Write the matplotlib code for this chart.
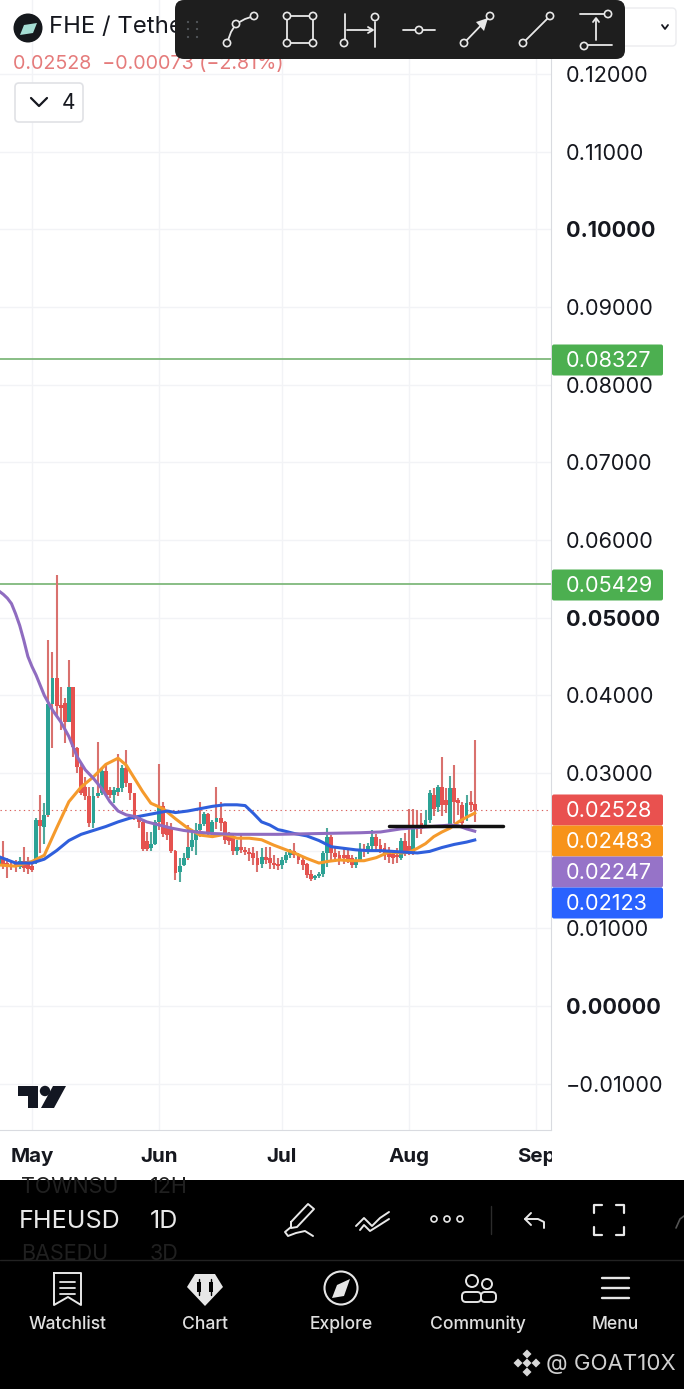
import numpy as np
import pandas as pd
import matplotlib
matplotlib.use('Agg')
import matplotlib.pyplot as plt
from matplotlib.patches import Rectangle, FancyBboxPatch, Circle, Polygon

plt.rcParams['font.family'] = ['Inter', 'DejaVu Sans']

# daily candles, FHE / Tether
first_day = '2025-04-23'
opens = [.0183,.0190,.0184,.0182,.0184,.0179,.0186,.0187,.0180,.0185,.0239,.0231,.0246,.0389,.0422,.0388,.0390,.0366,
         .0411,.0332,.0308,.0282,.0270,.0235,.0270,.0274,.0302,.0278,.0272,.0276,.0280,.0306,.0287,.0274,.0244,.0237,
         .0212,.0203,.0209,.0237,.0258,.0231,.0229,.0199,.0173,.0182,.0190,.0205,.0214,.0226,.0234,.0247,.0224,.0237,
         .0242,.0237,.0220,.0218,.0199,.0205,.0201,.0198,.0197,.0190,.0183,.0192,.0190,.0184,.0183,.0181,.0188,.0194,
         .0199,.0196,.0188,.0183,.0170,.0165,.0167,.0170,.0197,.0218,.0197,.0194,.0194,.0194,.0190,.0181,.0188,.0202,
         .0200,.0206,.0218,.0207,.0203,.0199,.0196,.0194,.0190,.0213,.0206,.0197,.0233,.0235,.0233,.0240,.0271,.0256,
         .0282,.0265,.0231,.0280,.0265,.0259,.0241,.0263,.0260]
highs = [.0195,.0213,.0190,.0187,.0188,.0192,.0205,.0192,.0186,.0242,.0272,.0261,.0471,.0456,.0555,.0411,.0396,.0446,
         .0411,.0334,.0312,.0295,.0282,.0282,.0340,.0308,.0312,.0282,.0282,.0325,.0310,.0330,.0287,.0274,.0246,.0240,
         .0224,.0224,.0240,.0312,.0262,.0237,.0235,.0201,.0190,.0197,.0233,.0225,.0235,.0262,.0250,.0248,.0240,.0282,
         .0263,.0238,.0224,.0222,.0214,.0220,.0205,.0203,.0205,.0200,.0203,.0205,.0205,.0194,.0190,.0192,.0198,.0202,
         .0210,.0197,.0190,.0184,.0175,.0169,.0172,.0199,.0229,.0220,.0203,.0200,.0205,.0203,.0195,.0192,.0210,.0209,
         .0210,.0227,.0222,.0215,.0210,.0205,.0200,.0203,.0216,.0223,.0254,.0254,.0252,.0248,.0252,.0278,.0280,.0284,
         .0320,.0280,.0296,.0310,.0268,.0262,.0272,.0277,.0342]
lows = [.0178,.0176,.0165,.0175,.0173,.0176,.0172,.0170,.0172,.0183,.0197,.0209,.0243,.0332,.0373,.0355,.0338,.0366,
        .0321,.0300,.0272,.0265,.0231,.0229,.0268,.0272,.0270,.0268,.0261,.0270,.0276,.0282,.0265,.0240,.0229,.0200,
        .0200,.0200,.0207,.0226,.0218,.0214,.0197,.0162,.0159,.0180,.0188,.0200,.0194,.0218,.0232,.0218,.0220,.0228,
        .0225,.0209,.0207,.0195,.0195,.0197,.0194,.0186,.0182,.0172,.0178,.0183,.0176,.0176,.0175,.0176,.0184,.0190,
        .0190,.0183,.0175,.0165,.0161,.0162,.0165,.0166,.0179,.0186,.0185,.0181,.0183,.0184,.0178,.0178,.0186,.0192,
        .0196,.0200,.0200,.0197,.0188,.0184,.0183,.0184,.0188,.0193,.0194,.0195,.0216,.0222,.0230,.0236,.0245,.0250,
        .0244,.0248,.0231,.0235,.0246,.0232,.0238,.0250,.0237]
closes = [.0190,.0182,.0180,.0180,.0179,.0187,.0178,.0176,.0175,.0239,.0232,.0246,.0389,.0422,.0386,.0383,.0366,.0411,
          .0334,.0308,.0274,.0270,.0235,.0270,.0274,.0302,.0272,.0272,.0278,.0280,.0306,.0287,.0274,.0244,.0237,.0202,
          .0202,.0209,.0237,.0258,.0222,.0220,.0199,.0171,.0180,.0190,.0205,.0214,.0226,.0234,.0247,.0224,.0237,.0242,
          .0236,.0214,.0212,.0199,.0205,.0201,.0198,.0196,.0190,.0182,.0192,.0188,.0184,.0181,.0180,.0188,.0194,.0199,
          .0194,.0188,.0181,.0169,.0164,.0167,.0170,.0197,.0218,.0197,.0192,.0186,.0190,.0188,.0181,.0188,.0201,.0199,
          .0206,.0218,.0206,.0201,.0193,.0192,.0190,.0192,.0213,.0198,.0197,.0233,.0228,.0228,.0240,.0274,.0254,.0282,
          .0259,.0259,.0280,.0263,.0261,.0235,.0261,.0259,.02528]

# moving averages, read at these day offsets from May 1
orange_days = [-8,-4,0,3,6,9,12,15,18,21,23,25,27,29,32,35,38,41,44,47,50,53,56,59,61,64,67,70,72,75,78,81,84,87,90,92,94,96,98,100,102,104,106,108]
orange_vals = [.01815,.0180,.0186,.0194,.0229,.0263,.0282,.0295,.0311,.0319,.0310,.0293,.0276,.0261,.0254,.0241,.0229,.0220,.0218,.0221,.0216,.0216,.0214,.0207,.0203,.0197,.0190,.0184,.0186,.0188,.0187,.0187,.0191,.0198,.0197,.0198,.0203,.0209,.0218,.0224,.0229,.0237,.0243,.02483]
blue_days = [-8,-5,-4,0,3,6,9,12,15,18,21,24,27,29,31,33,35,38,41,44,47,50,52,54,56,58,60,61,64,67,70,73,76,79,82,85,88,91,94,97,100,103,106,108]
blue_vals = [.0192,.0186,.0184,.0184,.0189,.0200,.0213,.0221,.0226,.0231,.0237,.0242,.0245,.0247,.0249,.0251,.0249,.0251,.0254,.0257,.0259,.0259,.0258,.0248,.0237,.0233,.0227,.0226,.0222,.0219,.0213,.0205,.0203,.0201,.0200,.0200,.0199,.0198,.0197,.0199,.0204,.0208,.0211,.02137]
purple_days = [-8,-7,-6,-5,-4,-3,-2,-1,0,1,3,5,7,9,11,13,15,17,19,21,23,25,28,31,34,37,40,44,50,60,70,80,85,90,95,100,102,104,106,108]
purple_vals = [.0534,.0530,.0525,.0518,.0505,.0490,.0471,.0450,.0437,.0426,.0400,.0381,.0366,.0347,.0321,.0304,.0293,.0280,.0263,.0251,.0246,.0244,.0237,.0233,.0229,.0226,.0224,.0222,.0221,.0221,.0222,.0223,.0224,.0228,.0230,.0232,.0233,.0232,.0228,.0225]

hlines = [0.08327, 0.05429]
support = 0.0232
last_price = 0.02528
price_ticks = [-0.01, 0, 0.01, 0.02, 0.03, 0.04, 0.05, 0.06, 0.07, 0.08, 0.09, 0.10, 0.11, 0.12]
bold_ticks = [0, 0.05, 0.10]
month_ticks = ['2025-05-01', '2025-06-01', '2025-07-01', '2025-08-01', '2025-09-01']
month_names = ['May', 'Jun', 'Jul', 'Aug', 'Sep']

W, H = 684, 1389
GREEN, RED = '#2ba295', '#e5524f'
ORANGE, BLUE, PURPLE = '#f59a2c', '#2f5fdc', '#8f6cc0'
grid = '#f2f3f6'

fig = plt.figure(figsize=(W/100, H/100), dpi=100, facecolor='white')
ax = fig.add_axes([0, (H-1130)/H, 551/W, 1130/H])

dates = pd.date_range(first_day, periods=len(opens))
opens, highs, lows, closes = map(np.array, (opens, highs, lows, closes))
may1 = pd.Timestamp('2025-05-01')

def to_dates(days):
    return [may1 + pd.Timedelta(days=int(d)) for d in days]

up = closes >= opens
colors = np.where(up, GREEN, RED)
# long upper wicks read as red in the picture, whatever the body
wick_colors = np.where(up & (highs - np.maximum(opens, closes) < 0.002), '#4fa99c', '#d9716e')
ax.vlines(dates, lows, highs, colors=wick_colors, lw=1.5, zorder=3)
ax.bar(dates, np.maximum(np.abs(closes-opens), 0.00015), bottom=np.minimum(opens, closes),
       width=0.95, color=colors, zorder=4, linewidth=0)

ax.plot(to_dates(orange_days), orange_vals, color=ORANGE, lw=2.2, zorder=5, solid_joinstyle='round')
ax.plot(to_dates(blue_days), blue_vals, color=BLUE, lw=2.2, zorder=5, solid_joinstyle='round')
ax.plot(to_dates(purple_days), purple_vals, color=PURPLE, lw=2.2, zorder=6, solid_joinstyle='round')

for v in hlines:
    ax.axhline(v, color='#7fb97c', lw=1.3, zorder=2)
ax.axhline(last_price, color='#d9605c', lw=0.8, ls=(0, (1.2, 3)), zorder=2)
ax.plot(to_dates([87, 115]), [support, support], color='#111111', lw=2.5, zorder=7, solid_capstyle='round')

ax.set_ylim(-0.01597, 0.12952)
ax.set_xlim(may1 - pd.Timedelta(days=7.8), may1 + pd.Timedelta(days=126.6))
ax.set_yticks(price_ticks)
# 0.02000 sits behind the price tags in the picture
ax.set_yticklabels(['' if t == 0.02 else ('\u22120.01000' if t < 0 else '%.5f' % t) for t in price_ticks])
ax.yaxis.tick_right()
ax.tick_params(axis='y', length=0, pad=10.5, labelsize=15.6, labelcolor='#16181f')
for t, lab in zip(price_ticks, ax.get_yticklabels()):
    if t in bold_ticks:
        lab.set_fontweight('bold')
ax.set_xticks(pd.to_datetime(month_ticks))
ax.set_xticklabels(month_names)
ax.tick_params(axis='x', length=0, pad=13, labelsize=14.8, labelcolor='#16181f')
for lab in ax.get_xticklabels():
    lab.set_fontweight('bold')
ax.grid(True, color=grid, lw=1)
ax.set_axisbelow(True)
for s in ['top', 'left']:
    ax.spines[s].set_visible(False)
ax.spines['right'].set_color('#d9dbe0')
ax.spines['bottom'].set_color('#d9dbe0')

# everything around the chart, in screen pixels
ui = fig.add_axes([0, 0, 1, 1])
ui.set_xlim(0, W)
ui.set_ylim(H, 0)
ui.axis('off')
ui.patch.set_alpha(0)

def line(xs, ys, c='#e8e8e8', lw=1.3, z=12):
    ui.plot(xs, ys, color=c, lw=lw, zorder=z, solid_capstyle='round')

def node(x, y, r=3.6, z=13):
    ui.add_patch(Circle((x, y), r, fc='#1e1e1e', ec='#e8e8e8', lw=1.2, zorder=z))

def txt(x, y, s, size, c='white', ha='left', weight='normal', z=12):
    ui.text(x, y, s, fontsize=size, color=c, ha=ha, va='center', fontweight=weight, zorder=z)

# cover for the clipped Sep label
ui.add_patch(Rectangle((551.5, 1131), 133, 49, fc='white', ec='none', zorder=2))

# price tags
tags = [(360, '#4caf50', '0.08327'), (585, '#4caf50', '0.05429'), (810, '#e9514f', '0.02528'),
        (841, '#f7931a', '0.02483'), (872, '#9673c8', '0.02247'), (903, '#2962ff', '0.02123')]
for y, c, s in tags:
    ui.add_patch(FancyBboxPatch((552, y-15.5), 111, 31, boxstyle='round,pad=0,rounding_size=2', fc=c, ec='none', zorder=3))
    txt(566, y+1, s, 15.6, 'white', z=4)

# header
ui.add_patch(Circle((28, 28), 14.5, fc='#15181c', ec='none', zorder=5))
ui.add_patch(Polygon([[20, 35], [24, 25], [37, 23], [33, 33]], fc='#a5ded4', ec='none', zorder=6))
txt(49, 27, 'FHE / Tether', 17.2, '#16181f', z=5)
txt(13, 63.5, '0.02528  \u22120.00073 (\u22122.81%)', 14.2, '#e57b7b', z=5)
ui.add_patch(FancyBboxPatch((15, 83), 68, 39, boxstyle='round,pad=0,rounding_size=4', fc='white', ec='#e0e1e5', lw=1.2, zorder=5))
line([31, 39, 47], [98, 106, 98], '#16181f', 1.6, 6)
txt(62, 103, '4', 15, '#16181f', z=6)
ui.add_patch(FancyBboxPatch((600, 8), 76, 38, boxstyle='round,pad=0,rounding_size=4', fc='white', ec='#ebecef', lw=1, zorder=5))
line([662, 665, 668], [25, 29, 25], '#16181f', 1.3, 6)

# drawing toolbar
ui.add_patch(FancyBboxPatch((175, 0), 450, 59, boxstyle='round,pad=0,rounding_size=9', fc='#1e1e1e', ec='none', zorder=10))
for gx in [188, 197]:
    for gy in [22, 29, 37]:
        ui.add_patch(Circle((gx, gy), 1.1, fc='#55585c', ec='none', zorder=11))
line([227, 231, 236, 245, 254], [43, 32, 24, 19, 16])
for p in [(227, 43), (236, 24), (254, 16)]:
    node(*p)
line([287, 313, 313, 287, 287], [16, 16, 43, 43, 16])
for p in [(287, 16), (313, 16), (287, 43), (313, 43)]:
    node(*p)
line([345, 345], [14, 39]); node(344, 43)
line([375, 375], [22, 47]); node(375, 17)
line([347, 372], [30, 30]); line([368, 373, 368], [27, 30, 33])
line([403, 435], [30, 30]); node(419, 30)
line([464, 490], [43, 16])
ui.add_patch(Polygon([[488, 18], [476, 22], [484, 31]], fc='#e8e8e8', ec='none', zorder=12))
node(464, 43); node(490, 16)
line([523, 550], [43, 16]); node(523, 43); node(550, 16)
line([580, 608], [14, 14]); node(608, 14)
line([584, 612], [45, 45]); node(584, 46)
line([596, 596], [40, 19]); line([593, 596, 599], [22, 18, 22])

# TradingView mark
ui.add_patch(Polygon([[18, 1086], [38, 1086], [38, 1108], [28, 1108], [28, 1096], [18, 1096]], fc='#131722', ec='none', zorder=5))
ui.add_patch(Circle((45, 1091), 5.2, fc='#131722', ec='none', zorder=5))
ui.add_patch(Polygon([[53, 1086], [66, 1086], [54, 1108], [41, 1108]], fc='#131722', ec='none', zorder=5))

# bottom bar
ui.add_patch(Rectangle((0, 1180), W, H-1180, fc='black', ec='none', zorder=5))
txt(19, 1221, 'FHEUSD', 18, '#e8e8e8', z=6)
txt(150, 1221, '1D', 18, '#e8e8e8', z=6)
txt(21, 1187, 'TOWNSU', 15.5, '#202020', z=6)
txt(150, 1187, '12H', 15.5, '#202020', z=6)
txt(21, 1254, 'BASEDU', 15.5, '#202020', z=6)
txt(150, 1254, '3D', 15.5, '#202020', z=6)
ui.add_patch(Rectangle((122, 1181), 8, 78, fc='black', ec='none', zorder=7))
line([0, W], [1260, 1260], '#222222', 1, 6)

# toolbar row icons
line([291, 308, 314, 297, 291, 291], [1222, 1204, 1209, 1227, 1228, 1222], lw=1.4)
line([291, 285, 288, 296, 305, 313], [1227, 1232, 1236, 1233, 1231, 1236], lw=1.4)
line([356, 364, 372, 380, 389], [1226, 1218, 1226, 1218, 1212], lw=1.4)
line([360, 364, 370, 378, 389], [1230, 1225, 1231, 1226, 1219], lw=1.4)
for dx in [434, 447, 460]:
    ui.add_patch(Circle((dx, 1219), 3, fc='black', ec='#e8e8e8', lw=1.2, zorder=6))
line([491, 491], [1206, 1234], '#2c2c2c', 1)
line([531, 525, 531], [1213, 1219, 1225], lw=1.4)
line([525, 538, 544, 544], [1219, 1219, 1222, 1228], lw=1.4)
for sx, sy in [(1, 1), (-1, 1), (1, -1), (-1, -1)]:
    cx, cy = 609 - sx*15, 1220 - sy*15
    line([cx, cx, cx+sx*8], [cy+sy*8, cy, cy], lw=1.6)
line([676, 680, 684], [1228, 1219, 1216], '#555555', 1.2)

# nav bar
line([54, 81, 81, 68, 54, 54], [1273, 1273, 1305, 1297, 1305, 1273], lw=1.4)
for ly in [1282, 1288, 1294]:
    line([60, 75], [ly, ly], lw=1.3)
ui.add_patch(Polygon([[195, 1274], [215, 1274], [223, 1287], [205, 1306], [187, 1287]], fc='#e6e6e6', ec='none', zorder=6))
for cx in [199, 211]:
    ui.add_patch(Rectangle((cx-2, 1282), 4, 10, fc='black', ec='none', zorder=7))
    line([cx, cx], [1279, 1295], 'black', 1, 7)
ui.add_patch(Circle((341, 1288), 16.5, fc='black', ec='#e6e6e6', lw=1.5, zorder=6))
ui.add_patch(Polygon([[350, 1279], [344, 1296], [332, 1298], [337, 1285]], fc='#e6e6e6', ec='none', zorder=7))
ui.add_patch(Circle((472, 1281), 6, fc='black', ec='#e6e6e6', lw=1.4, zorder=6))
ui.add_patch(Circle((487, 1284), 5, fc='black', ec='#e6e6e6', lw=1.4, zorder=6))
ui.add_patch(FancyBboxPatch((462, 1292), 19, 10, boxstyle='round,pad=0,rounding_size=4', fc='black', ec='#e6e6e6', lw=1.4, zorder=7))
ui.add_patch(FancyBboxPatch((481, 1292), 15, 10, boxstyle='round,pad=0,rounding_size=4', fc='none', ec='#e6e6e6', lw=1.4, zorder=6))
for ly in [1278, 1288, 1298]:
    line([602, 629], [ly, ly], '#e6e6e6', 1.7)

nav_x = [68, 205, 341, 478, 615]
nav_names = ['Watchlist', 'Chart', 'Explore', 'Community', 'Menu']
for x, s in zip(nav_x, nav_names):
    txt(x, 1324.5, s, 12.6, '#e0e0e0', ha='center', weight='medium', z=6)

# watermark
for dx, dy in [(0, -9), (0, 9), (-9, 0), (9, 0), (0, 0)]:
    ui.add_patch(Polygon([[527+dx, 1363+dy-4.5], [527+dx+4.5, 1363+dy], [527+dx, 1363+dy+4.5], [527+dx-4.5, 1363+dy]],
                         fc='#d8d8d8', ec='none', zorder=6))
txt(546, 1363.5, '@ GOAT10X', 16, '#d0d0d0', z=6)

fig.savefig('out.png', dpi=100)
